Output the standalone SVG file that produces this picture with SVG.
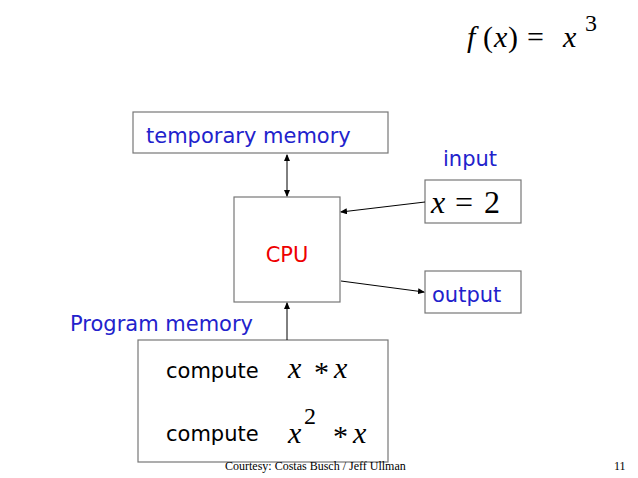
<svg xmlns="http://www.w3.org/2000/svg" width="638" height="478" viewBox="0 0 638 478">
<style>
.b{fill:#fff;stroke:#777;stroke-width:1.2}
.s{font-family:"DejaVu Sans",sans-serif;font-size:21px}
.m{font-family:"Liberation Serif",serif;font-style:italic}
.n{font-family:"Liberation Serif",serif}
.c{stroke:#000;stroke-width:1;fill:none}
</style>
<defs><marker id="a" markerWidth="7" markerHeight="6" refX="6" refY="3" orient="auto-start-reverse" markerUnits="userSpaceOnUse"><path d="M0,0L7,3L0,6z" fill="#000"/></marker></defs>
<rect width="638" height="478" fill="#fff"/>
<g font-size="30">
<text x="467" y="47" class="m">f</text><text x="483" y="47" class="n">(</text><text x="494" y="47" class="m">x</text><text x="508" y="47" class="n">)</text><text x="527" y="47" class="n">=</text><text x="563" y="47" class="m">x</text>
</g>
<text x="585" y="31" class="n" font-size="24">3</text>
<g id="temp"><rect class="b" x="133" y="112" width="255" height="41"/><text class="s" x="146" y="143" fill="#22c">temporary memory</text></g>
<g id="cpu"><rect class="b" x="234" y="197" width="106" height="105"/><text class="s" x="287" y="262" fill="#e00" text-anchor="middle">CPU</text></g>
<g id="input"><text class="s" x="443" y="166" fill="#22c">input</text><rect class="b" x="425" y="180" width="96" height="43"/>
<g font-size="32"><text x="431" y="213" class="m">x</text><text x="455" y="213" class="n">=</text><text x="484" y="213" class="n">2</text></g></g>
<g id="output"><rect class="b" x="425" y="271" width="96" height="42"/><text class="s" x="432" y="302" fill="#22c">output</text></g>
<g id="program"><text class="s" x="70" y="331" fill="#22c">Program memory</text><rect class="b" x="138" y="340" width="250" height="122"/>
<text class="s" x="166" y="378" fill="#000">compute</text>
<g font-size="30"><text x="288" y="378" class="m">x</text><text x="314" y="382" class="n">*</text><text x="334" y="378" class="m">x</text>
<text x="288" y="443" class="m">x</text><text x="333" y="446" class="n">*</text><text x="353" y="443" class="m">x</text></g>
<text class="s" x="166" y="441" fill="#000">compute</text><text x="304" y="424" font-size="24" class="n">2</text></g>
<g id="connectors">
<line class="c" x1="287" y1="155" x2="287" y2="196" marker-start="url(#a)" marker-end="url(#a)"/>
<line class="c" x1="425" y1="202" x2="341" y2="212" marker-end="url(#a)"/>
<line class="c" x1="341" y1="281" x2="424" y2="292" marker-end="url(#a)"/>
<line class="c" x1="287" y1="340" x2="287" y2="303" marker-end="url(#a)"/>
</g>
<text x="225" y="470" class="n" font-size="12">Courtesy: Costas Busch / Jeff Ullman</text>
<text x="614" y="470" class="n" font-size="12">11</text>
</svg>
